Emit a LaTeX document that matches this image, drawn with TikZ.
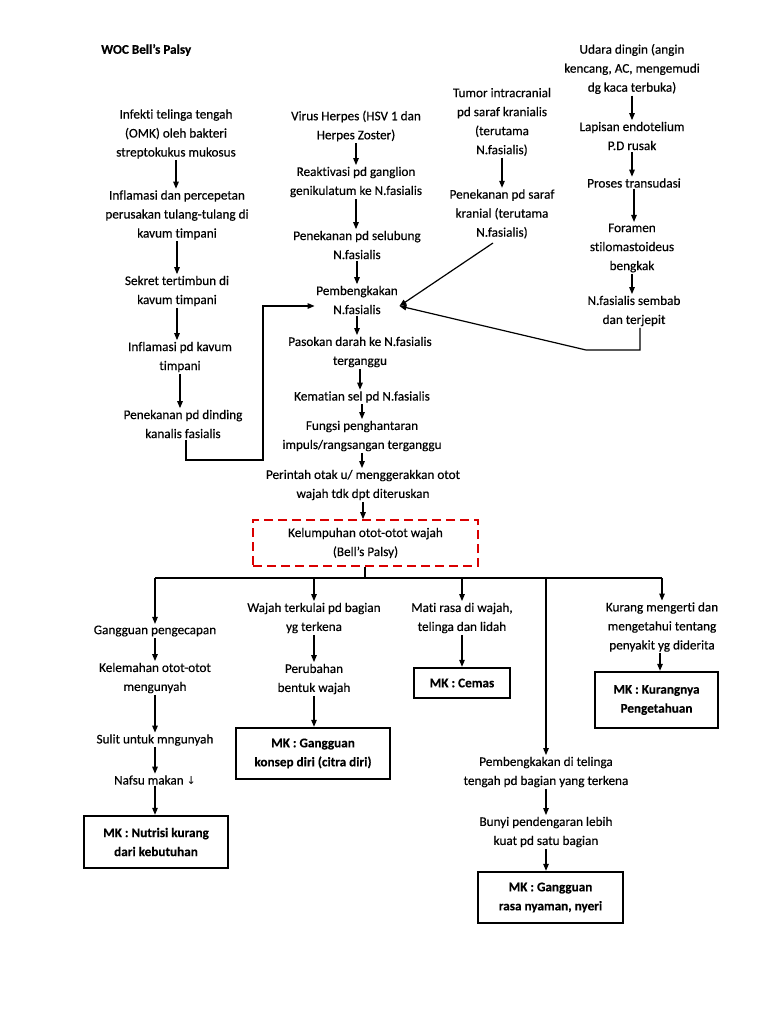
\documentclass[tikz,border=0pt]{standalone}
\usepackage{fontspec}
\setmainfont{Carlito}[Ligatures={NoCommon}, FakeBold=0.35, BoldFeatures={FakeBold=0.3}]
\newfontfamily\dvs{DejaVu Sans}
\usetikzlibrary{arrows.meta}
\newcommand\fsz{\fontsize{13.2}{19}\selectfont}
\tikzset{
  txt/.style={align=center, inner sep=1.5pt, font=\fsz},
  arr/.style={line width=1.2pt, -{Triangle[length=7pt,width=5.5pt]}},
  ln/.style={line width=1.2pt},
  mk/.style={draw, line width=2.4pt, align=center, inner sep=2pt, font=\bfseries\fsz},
  redbox/.style={draw=red!85!black, line width=1.6pt, dash pattern=on 9pt off 5pt, align=center, font=\fsz}
}
\begin{document}
\begin{tikzpicture}[x=1pt,y=-1pt]
\useasboundingbox (0,0) rectangle (768,1024);
\fill[white] (0,0) rectangle (768,1024);

\node[anchor=west, font=\bfseries\fsz, inner sep=0pt] (title) at (101,50) {WOC Bell’s Palsy};

% left column
\node[txt] (L1) at (176,134) {Infekti telinga tengah\\(OMK) oleh bakteri\\streptokukus mukosus};
\node[txt] (L2) at (177,215) {Inflamasi dan percepetan\\perusakan tulang-tulang di\\kavum timpani};
\node[txt] (L3) at (177,291) {Sekret tertimbun di\\kavum timpani};
\node[txt] (L4) at (180,357) {Inflamasi pd kavum\\timpani};
\node[txt] (L5) at (183,424) {Penekanan pd dinding\\kanalis fasialis};

% middle column
\node[txt] (M1) at (356,126) {Virus Herpes (HSV 1 dan\\Herpes Zoster)};
\node[txt] (M2) at (356,182) {Reaktivasi pd ganglion\\genikulatum ke N.fasialis};
\node[txt] (M3) at (357,245) {Penekanan pd selubung\\N.fasialis};
\node[txt] (M4) at (357,300) {Pembengkakan\\N.fasialis};
\node[txt] (M5) at (360,352) {Pasokan darah ke N.fasialis\\terganggu};
\node[txt] (M6) at (362,397) {Kematian sel pd N.fasialis};
\node[txt] (M7) at (362,436) {Fungsi penghantaran\\impuls/rangsangan terganggu};
\node[txt] (M8) at (363,485) {Perintah otak u/ menggerakkan otot\\wajah tdk dpt diteruskan};
\node[redbox, minimum width=225pt, minimum height=46pt] (M9) at (365.5,543) {Kelumpuhan otot-otot wajah\\(Bell’s Palsy)};

% tumor column
\node[txt] (T1) at (502,122) {Tumor intracranial\\pd saraf kranialis\\(terutama\\N.fasialis)};
\node[txt] (T2) at (502,214) {Penekanan pd saraf\\kranial (terutama\\N.fasialis)};

% right column
\node[txt] (R1) at (632,69) {Udara dingin (angin\\kencang, AC, mengemudi\\dg kaca terbuka)};
\node[txt] (R2) at (632,136) {Lapisan endotelium\\P.D rusak};
\node[txt] (R3) at (634,183) {Proses transudasi};
\node[txt] (R4) at (632,248) {Foramen\\stilomastoideus\\bengkak};
\node[txt] (R5) at (634,311) {N.fasialis sembab\\dan terjepit};

% bottom branches
\node[txt] (B1a) at (155,631) {Gangguan pengecapan};
\node[txt] (B1b) at (155,678) {Kelemahan otot-otot\\mengunyah};
\node[txt] (B1c) at (155,740) {Sulit untuk mngunyah};
\node[txt] (B1d) at (155,780) {Nafsu makan {\dvs\fontsize{11}{19}\selectfont ↓}};
\node[mk, minimum width=144pt, minimum height=52pt] (B1e) at (156,842) {MK : Nutrisi kurang\\dari kebutuhan};

\node[txt] (B2a) at (314,618) {Wajah terkulai pd bagian\\yg terkena};
\node[txt] (B2b) at (314,679) {Perubahan\\bentuk wajah};
\node[mk, minimum width=154pt, minimum height=51pt] (B2c) at (313,753.5) {MK : Gangguan\\konsep diri (citra diri)};

\node[txt] (B3a) at (462,618) {Mati rasa di wajah,\\telinga dan lidah};
\node[mk, minimum width=96pt, minimum height=30pt] (B3b) at (462,683) {MK : Cemas};

\node[txt] (B4a) at (546,772) {Pembengkakan di telinga\\tengah pd bagian yang terkena};
\node[txt] (B4b) at (546,832) {Bunyi pendengaran lebih\\kuat pd satu bagian};
\node[mk, minimum width=145pt, minimum height=51pt] (B4c) at (550.5,897.5) {MK : Gangguan\\rasa nyaman, nyeri};

\node[txt] (B5a) at (662,627) {Kurang mengerti dan\\mengetahui tentang\\penyakit yg diderita};
\node[mk, minimum width=123pt, minimum height=56pt] (B5b) at (656.5,700) {MK : Kurangnya\\Pengetahuan};

% arrows left column
\foreach \a/\b in {L1/L2, L2/L3, L3/L4, L4/L5}
  \draw[arr] (\a.south) -- (\a.south |- \b.north);
% middle
\foreach \a/\b in {M1/M2, M2/M3, M3/M4, M4/M5, M5/M6, M6/M7, M7/M8, M8/M9}
  \draw[arr] (\a.south) -- (\a.south |- \b.north);
\draw[arr] (T1.south) -- (T1.south |- T2.north);
\foreach \a/\b in {R1/R2, R2/R3, R3/R4, R4/R5}
  \draw[arr] (\a.south) -- (\a.south |- \b.north);

% loops into Pembengkakan
\coordinate (lp1) at (186,460);
\coordinate (lp2) at (263,306);
\draw[arr] (L5.south -| lp1) -- (lp1) -- (lp1 -| lp2) -- (lp2) -- ([yshift=-6pt]M4.west);
\coordinate (ts) at (493,243);
\draw[arr] (ts) -- ([yshift=-6pt]M4.east);
\coordinate (rp1) at (640,350);
\coordinate (rp2) at (586,350);
\draw[arr] (R5.south -| rp1) -- (rp1) -- (rp2) -- ([yshift=-6pt]M4.east);

% bus
\coordinate (bus) at (365,578);
\coordinate (bx1) at (155,578);
\coordinate (bx2) at (314,578);
\coordinate (bx3) at (462,578);
\coordinate (bx4) at (546,578);
\coordinate (bx5) at (662,578);
\draw[ln] (M9.south -| bus) -- (bus);
\draw[ln] (bx1) -- (bx5);
\draw[arr] (bx1) -- (bx1 |- B1a.north);
\draw[arr] (bx2) -- (bx2 |- B2a.north);
\draw[arr] (bx3) -- (bx3 |- B3a.north);
\draw[arr] (bx4) -- (bx4 |- B4a.north);
\draw[arr] (bx5) -- (bx5 |- B5a.north);

\foreach \a/\b in {B1a/B1b, B1b/B1c, B1c/B1d, B1d/B1e, B2a/B2b, B2b/B2c, B3a/B3b, B4a/B4b, B4b/B4c}
  \draw[arr] (\a.south) -- (\a.south |- \b.north);
\draw[arr] ([xshift=-2pt]B5a.south) -- ([xshift=-2pt]B5a.south |- B5b.north);
\end{tikzpicture}
\end{document}
